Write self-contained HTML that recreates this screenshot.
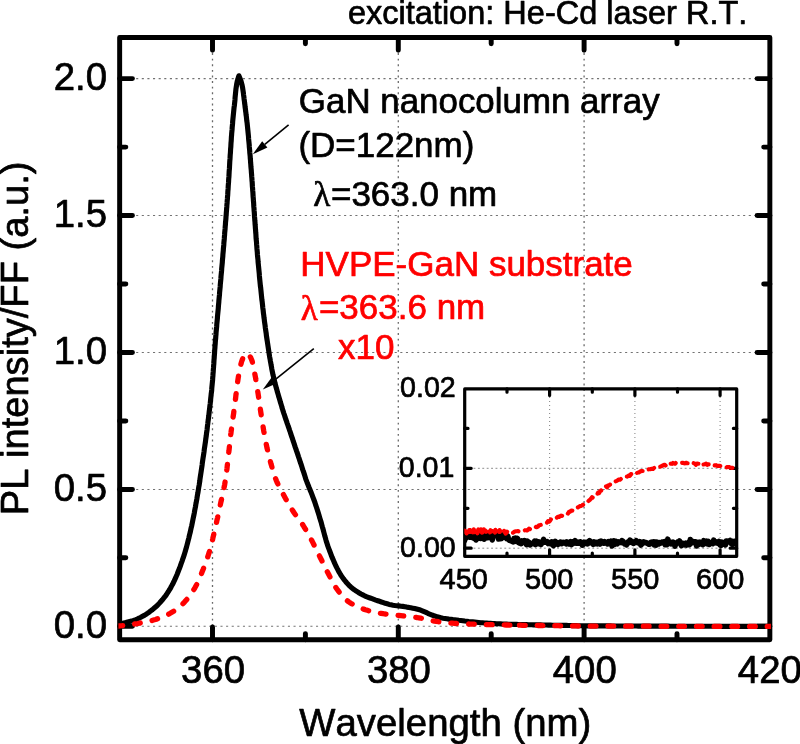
<!DOCTYPE html>
<html><head><meta charset="utf-8"><title>PL spectra</title>
<style>html,body{margin:0;padding:0;background:#fff}svg{display:block}text{font-family:"Liberation Sans",sans-serif;stroke-width:0.7px;stroke-linejoin:round;font-kerning:none}.sym{font-family:"Liberation Serif","DejaVu Serif",serif}</style></head><body>
<svg width="800" height="744" viewBox="0 0 800 744">
<rect width="800" height="744" fill="#fff"/>
<defs><clipPath id="cp"><rect x="118.45" y="37.5" width="652.45" height="602.3"/></clipPath><clipPath id="ci"><rect x="464.3" y="388.8" width="273.2" height="167"/></clipPath></defs>
<g><path d="M212.5,53.1V639.8" stroke="#6a6a6a" stroke-width="1.3" stroke-dasharray="1.9 3.7" fill="none"/><path d="M398.3,53.1V639.8" stroke="#6a6a6a" stroke-width="1.3" stroke-dasharray="1.9 3.7" fill="none"/><path d="M584.1,53.1V639.8" stroke="#6a6a6a" stroke-width="1.3" stroke-dasharray="1.9 3.7" fill="none"/><path d="M136.15,626.3H769.9" stroke="#737373" stroke-width="1.05" stroke-dasharray="2.1 3.52" fill="none"/><path d="M136.15,489.4H769.9" stroke="#737373" stroke-width="1.05" stroke-dasharray="2.1 3.52" fill="none"/><path d="M136.15,352.4H769.9" stroke="#737373" stroke-width="1.05" stroke-dasharray="2.1 3.52" fill="none"/><path d="M136.15,215.5H769.9" stroke="#737373" stroke-width="1.05" stroke-dasharray="2.1 3.52" fill="none"/><path d="M136.15,78.6H769.9" stroke="#737373" stroke-width="1.05" stroke-dasharray="2.1 3.52" fill="none"/></g>
<g stroke="#000" stroke-width="4.95" stroke-linecap="round" stroke-linejoin="round" fill="none">
<rect x="119.65" y="37.5" width="650.2" height="602.3"/>
<path d="M212.5,37.5v12.8M212.5,639.8v-12.8M398.3,37.5v12.8M398.3,639.8v-12.8M584.1,37.5v12.8M584.1,639.8v-12.8M305.4,37.5v6.2M305.4,639.8v-6.2M491.2,37.5v6.2M491.2,639.8v-6.2M677.0,37.5v6.2M677.0,639.8v-6.2M119.65,626.3h12.8M769.9,626.3h-12.8M119.65,489.4h12.8M769.9,489.4h-12.8M119.65,352.4h12.8M769.9,352.4h-12.8M119.65,215.5h12.8M769.9,215.5h-12.8M119.65,78.6h12.8M769.9,78.6h-12.8M119.65,557.8h6.2M769.9,557.8h-6.2M119.65,420.9h6.2M769.9,420.9h-6.2M119.65,284.0h6.2M769.9,284.0h-6.2M119.65,147.1h6.2M769.9,147.1h-6.2"/>
</g>
<g clip-path="url(#cp)" fill="none" stroke-linecap="round" stroke-linejoin="round">
<path d="M110.0,625.0 L112.0,624.9 L114.0,624.7 L116.0,624.4 L117.9,624.2 L119.9,623.8 L121.9,623.4 L123.8,623.0 L125.8,622.6 L127.7,622.1 L129.7,621.6 L131.6,621.1 L133.5,620.5 L135.3,619.8 L137.2,619.0 L139.0,618.2 L140.8,617.3 L142.6,616.3 L144.3,615.4 L146.0,614.3 L147.7,613.2 L149.3,612.1 L150.9,610.8 L152.5,609.6 L154.0,608.3 L155.5,607.0 L157.0,605.7 L158.4,604.2 L159.8,602.8 L161.1,601.3 L162.4,599.8 L163.7,598.2 L164.9,596.7 L166.1,595.1 L167.2,593.4 L168.3,591.7 L169.3,590.0 L170.4,588.3 L171.3,586.5 L172.3,584.8 L173.2,583.0 L174.1,581.2 L174.9,579.4 L175.7,577.6 L176.5,575.8 L177.3,573.9 L178.0,572.0 L178.7,570.2 L179.5,568.3 L180.2,566.4 L180.8,564.6 L181.5,562.7 L182.2,560.8 L182.8,558.9 L183.5,557.0 L184.1,555.1 L184.7,553.2 L185.3,551.3 L185.8,549.4 L186.4,547.5 L186.9,545.5 L187.4,543.6 L187.9,541.7 L188.4,539.7 L188.9,537.8 L189.3,535.9 L189.8,533.9 L190.3,532.0 L190.7,530.0 L191.1,528.1 L191.6,526.1 L192.0,524.2 L192.4,522.2 L192.8,520.3 L193.2,518.3 L193.6,516.4 L194.0,514.4 L194.4,512.4 L194.7,510.5 L195.1,508.5 L195.5,506.5 L195.8,504.6 L196.2,502.6 L196.5,500.7 L196.9,498.7 L197.2,496.7 L197.5,494.8 L197.9,492.8 L198.2,490.8 L198.5,488.8 L198.8,486.9 L199.2,484.9 L199.5,482.9 L199.8,481.0 L200.0,479.0 L200.3,477.0 L200.6,475.0 L200.9,473.1 L201.2,471.1 L201.5,469.1 L201.8,467.1 L202.1,465.1 L202.3,463.2 L202.6,461.2 L202.9,459.2 L203.2,457.2 L203.5,455.3 L203.8,453.3 L204.1,451.3 L204.3,449.3 L204.6,447.4 L204.9,445.4 L205.2,443.4 L205.5,441.4 L205.7,439.5 L206.0,437.5 L206.3,435.5 L206.5,433.5 L206.8,431.5 L207.1,429.6 L207.3,427.6 L207.5,425.6 L207.8,423.6 L208.0,421.6 L208.3,419.7 L208.5,417.7 L208.8,415.7 L209.0,413.7 L209.2,411.7 L209.5,409.7 L209.7,407.8 L209.9,405.8 L210.2,403.8 L210.4,401.8 L210.6,399.8 L210.8,397.8 L211.0,395.9 L211.2,393.9 L211.5,391.9 L211.7,389.9 L211.8,387.9 L212.0,385.9 L212.2,383.9 L212.4,381.9 L212.6,380.0 L212.7,378.0 L212.9,376.0 L213.0,374.0 L213.2,372.0 L213.3,370.0 L213.5,368.0 L213.6,366.0 L213.8,364.0 L213.9,362.0 L214.0,360.1 L214.2,358.1 L214.3,356.1 L214.5,354.1 L214.6,352.1 L214.7,350.1 L214.9,348.1 L215.0,346.1 L215.2,344.1 L215.3,342.1 L215.5,340.1 L215.7,338.1 L215.8,336.2 L216.0,334.2 L216.1,332.2 L216.3,330.2 L216.5,328.2 L216.7,326.2 L216.8,324.2 L217.0,322.2 L217.2,320.2 L217.4,318.3 L217.5,316.3 L217.7,314.3 L217.9,312.3 L218.1,310.3 L218.3,308.3 L218.4,306.3 L218.6,304.3 L218.8,302.3 L218.9,300.4 L219.1,298.4 L219.3,296.4 L219.5,294.4 L219.6,292.4 L219.8,290.4 L220.0,288.4 L220.2,286.4 L220.3,284.4 L220.5,282.5 L220.7,280.5 L220.9,278.5 L221.0,276.5 L221.2,274.5 L221.4,272.5 L221.6,270.5 L221.7,268.5 L221.9,266.6 L222.1,264.6 L222.3,262.6 L222.4,260.6 L222.6,258.6 L222.8,256.6 L222.9,254.6 L223.1,252.6 L223.3,250.6 L223.4,248.6 L223.6,246.7 L223.8,244.7 L223.9,242.7 L224.1,240.7 L224.3,238.7 L224.4,236.7 L224.6,234.7 L224.7,232.7 L224.9,230.7 L225.1,228.7 L225.2,226.8 L225.4,224.8 L225.5,222.8 L225.7,220.8 L225.9,218.8 L226.0,216.8 L226.2,214.8 L226.3,212.8 L226.5,210.8 L226.6,208.8 L226.8,206.9 L226.9,204.9 L227.1,202.9 L227.2,200.9 L227.4,198.9 L227.5,196.9 L227.7,194.9 L227.8,192.9 L227.9,190.9 L228.1,188.9 L228.2,186.9 L228.3,185.0 L228.5,183.0 L228.6,181.0 L228.7,179.0 L228.9,177.0 L229.0,175.0 L229.1,173.0 L229.2,171.0 L229.4,169.0 L229.5,167.0 L229.6,165.0 L229.7,163.0 L229.8,161.0 L230.0,159.0 L230.1,157.1 L230.2,155.1 L230.4,153.1 L230.5,151.1 L230.6,149.1 L230.8,147.1 L230.9,145.1 L231.0,143.1 L231.2,141.1 L231.3,139.1 L231.4,137.1 L231.6,135.1 L231.7,133.2 L231.9,131.2 L232.1,129.2 L232.2,127.2 L232.4,125.2 L232.6,123.2 L232.7,121.2 L232.9,119.2 L233.1,117.2 L233.3,115.3 L233.5,113.3 L233.7,111.3 L233.9,109.3 L234.1,107.3 L234.4,105.3 L234.6,103.3 L234.8,101.4 L235.0,99.4 L235.1,97.4 L235.3,95.4 L235.5,93.4 L235.7,91.4 L235.9,89.4 L236.2,87.4 L236.5,85.5 L236.8,83.5 L237.2,81.6 L237.8,79.6 L238.3,77.7 L238.9,75.8 L239.7,77.7 L240.4,79.5 L241.1,81.4 L241.6,83.3 L242.1,85.2 L242.5,87.2 L242.8,89.1 L243.1,91.1 L243.4,93.1 L243.6,95.1 L243.9,97.1 L244.1,99.1 L244.4,101.1 L244.6,103.0 L244.9,105.0 L245.1,107.0 L245.4,109.0 L245.6,111.0 L245.9,112.9 L246.1,114.9 L246.4,116.9 L246.6,118.9 L246.8,120.9 L247.1,122.8 L247.3,124.8 L247.5,126.8 L247.7,128.8 L247.9,130.8 L248.1,132.8 L248.3,134.8 L248.5,136.8 L248.6,138.7 L248.8,140.7 L249.0,142.7 L249.2,144.7 L249.3,146.7 L249.5,148.7 L249.7,150.7 L249.8,152.7 L250.0,154.6 L250.2,156.6 L250.3,158.6 L250.5,160.6 L250.6,162.6 L250.8,164.6 L250.9,166.6 L251.1,168.6 L251.3,170.6 L251.4,172.6 L251.6,174.6 L251.7,176.5 L251.9,178.5 L252.0,180.5 L252.2,182.5 L252.3,184.5 L252.4,186.5 L252.6,188.5 L252.7,190.5 L252.9,192.5 L253.0,194.5 L253.1,196.4 L253.3,198.4 L253.4,200.4 L253.6,202.4 L253.7,204.4 L253.8,206.4 L254.0,208.4 L254.1,210.4 L254.3,212.4 L254.4,214.4 L254.5,216.4 L254.7,218.4 L254.8,220.3 L255.0,222.3 L255.1,224.3 L255.3,226.3 L255.4,228.3 L255.6,230.3 L255.7,232.3 L255.9,234.3 L256.0,236.3 L256.1,238.3 L256.3,240.3 L256.5,242.2 L256.6,244.2 L256.8,246.2 L256.9,248.2 L257.1,250.2 L257.3,252.2 L257.4,254.2 L257.6,256.2 L257.8,258.2 L258.0,260.1 L258.1,262.1 L258.3,264.1 L258.5,266.1 L258.7,268.1 L258.9,270.1 L259.1,272.1 L259.3,274.1 L259.4,276.0 L259.6,278.0 L259.8,280.0 L260.0,282.0 L260.2,284.0 L260.4,286.0 L260.7,288.0 L260.9,289.9 L261.1,291.9 L261.3,293.9 L261.5,295.9 L261.7,297.9 L261.9,299.9 L262.2,301.9 L262.4,303.8 L262.6,305.8 L262.8,307.8 L263.1,309.8 L263.3,311.8 L263.5,313.7 L263.8,315.7 L264.0,317.7 L264.3,319.7 L264.5,321.7 L264.8,323.6 L265.1,325.6 L265.3,327.6 L265.6,329.6 L265.9,331.6 L266.2,333.5 L266.4,335.5 L266.7,337.5 L267.0,339.5 L267.3,341.4 L267.6,343.4 L267.9,345.4 L268.2,347.4 L268.5,349.3 L268.8,351.3 L269.1,353.3 L269.4,355.3 L269.7,357.2 L270.1,359.2 L270.4,361.2 L270.8,363.1 L271.1,365.1 L271.5,367.1 L271.8,369.0 L272.2,371.0 L272.6,372.9 L273.0,374.9 L273.5,376.8 L273.9,378.8 L274.4,380.7 L274.9,382.6 L275.4,384.6 L275.9,386.5 L276.4,388.4 L277.0,390.3 L277.5,392.3 L278.1,394.2 L278.6,396.1 L279.2,398.0 L279.8,400.0 L280.3,401.9 L280.9,403.8 L281.5,405.7 L282.0,407.6 L282.6,409.5 L283.2,411.4 L283.8,413.3 L284.5,415.2 L285.1,417.1 L285.7,419.0 L286.4,420.9 L287.0,422.8 L287.7,424.7 L288.3,426.5 L289.0,428.4 L289.6,430.3 L290.3,432.2 L290.9,434.1 L291.5,436.0 L292.2,437.9 L292.8,439.8 L293.4,441.7 L294.1,443.6 L294.7,445.5 L295.3,447.4 L296.0,449.2 L296.6,451.1 L297.3,453.0 L297.9,454.9 L298.5,456.8 L299.2,458.7 L299.8,460.6 L300.4,462.5 L301.1,464.4 L301.7,466.3 L302.3,468.2 L302.9,470.1 L303.6,472.0 L304.2,473.9 L304.8,475.8 L305.4,477.7 L306.0,479.6 L306.7,481.4 L307.4,483.3 L308.2,485.2 L308.9,487.0 L309.7,488.9 L310.4,490.7 L311.2,492.6 L311.9,494.4 L312.6,496.3 L313.3,498.1 L314.0,500.0 L314.7,501.9 L315.3,503.8 L315.9,505.7 L316.6,507.6 L317.2,509.5 L317.8,511.4 L318.4,513.3 L319.0,515.2 L319.5,517.1 L320.1,519.0 L320.7,520.9 L321.3,522.8 L321.8,524.8 L322.3,526.7 L322.9,528.6 L323.4,530.5 L323.9,532.5 L324.4,534.4 L324.9,536.3 L325.5,538.3 L326.0,540.2 L326.6,542.1 L327.2,544.0 L327.8,545.9 L328.5,547.8 L329.2,549.6 L329.9,551.5 L330.6,553.4 L331.3,555.2 L332.0,557.1 L332.8,558.9 L333.6,560.8 L334.4,562.6 L335.2,564.4 L336.1,566.3 L337.0,568.1 L337.9,569.8 L338.8,571.6 L339.8,573.3 L340.8,575.0 L341.9,576.6 L343.1,578.3 L344.3,579.9 L345.6,581.5 L346.9,583.0 L348.3,584.5 L349.6,585.9 L351.1,587.2 L352.6,588.4 L354.2,589.7 L355.9,590.8 L357.6,591.9 L359.3,593.0 L361.0,594.0 L362.8,594.9 L364.6,595.8 L366.4,596.6 L368.2,597.3 L370.1,598.0 L372.0,598.7 L373.9,599.4 L375.8,600.1 L377.7,600.7 L379.6,601.3 L381.5,602.0 L383.4,602.6 L385.3,603.3 L387.2,603.8 L389.1,604.4 L391.0,604.8 L393.0,605.2 L395.0,605.5 L396.9,605.7 L398.9,605.9 L400.9,606.2 L402.9,606.4 L404.9,606.7 L406.8,607.1 L408.8,607.4 L410.8,607.8 L412.8,608.2 L414.7,608.6 L416.6,609.1 L418.6,609.6 L420.5,610.1 L422.3,610.8 L424.2,611.6 L426.0,612.4 L427.8,613.3 L429.7,614.1 L431.5,614.8 L433.4,615.5 L435.3,616.1 L437.2,616.8 L439.1,617.3 L441.0,617.8 L443.0,618.2 L444.9,618.5 L446.9,618.8 L448.9,619.1 L450.9,619.3 L452.9,619.6 L454.8,619.8 L456.8,620.0 L458.8,620.3 L460.8,620.5 L462.8,620.7 L464.8,621.0 L466.8,621.2 L468.7,621.5 L470.7,621.7 L472.7,621.9 L474.7,622.1 L476.7,622.3 L478.7,622.5 L480.7,622.7 L482.6,622.8 L484.6,623.0 L486.6,623.1 L488.6,623.3 L490.6,623.4 L492.6,623.5 L494.6,623.6 L496.6,623.7 L498.6,623.8 L500.6,623.9 L502.6,624.0 L504.6,624.1 L506.6,624.1 L508.5,624.2 L510.5,624.2 L512.5,624.3 L514.5,624.4 L516.5,624.4 L518.5,624.5 L520.5,624.5 L522.5,624.5 L524.5,624.6 L526.5,624.6 L528.5,624.7 L530.5,624.7 L532.5,624.8 L534.5,624.8 L536.5,624.8 L538.5,624.9 L540.5,624.9 L542.5,625.0 L544.5,625.0 L546.5,625.0 L548.5,625.1 L550.5,625.1 L552.5,625.2 L554.5,625.2 L556.4,625.2 L558.4,625.3 L560.4,625.3 L562.4,625.4 L564.4,625.4 L566.4,625.4 L568.4,625.5 L570.4,625.5 L572.4,625.6 L574.4,625.6 L576.4,625.6 L578.4,625.7 L580.4,625.7 L582.4,625.7 L584.4,625.8 L586.4,625.8 L588.4,625.8 L590.4,625.8 L592.4,625.8 L594.4,625.9 L596.4,625.9 L598.4,625.9 L600.4,625.9 L602.4,625.9 L604.3,625.9 L606.3,625.9 L608.3,625.9 L610.3,625.9 L612.3,626.0 L614.3,626.0 L616.3,626.0 L618.3,626.0 L620.3,626.0 L622.3,626.0 L624.3,626.0 L626.3,626.0 L628.3,626.0 L630.3,626.0 L632.3,626.0 L634.3,626.0 L636.3,626.0 L638.3,626.1 L640.3,626.1 L642.3,626.1 L644.3,626.1 L646.3,626.1 L648.3,626.1 L650.3,626.1 L652.2,626.1 L654.2,626.1 L656.2,626.1 L658.2,626.1 L660.2,626.1 L662.2,626.1 L664.2,626.1 L666.2,626.1 L668.2,626.1 L670.2,626.2 L672.2,626.2 L674.2,626.2 L676.2,626.2 L678.2,626.2 L680.2,626.2 L682.2,626.2 L684.2,626.2 L686.2,626.2 L688.2,626.2 L690.2,626.2 L692.2,626.2 L694.2,626.2 L696.2,626.2 L698.2,626.2 L700.2,626.2 L702.1,626.2 L704.1,626.2 L706.1,626.2 L708.1,626.2 L710.1,626.2 L712.1,626.2 L714.1,626.2 L716.1,626.3 L718.1,626.3 L720.1,626.3 L722.1,626.3 L724.1,626.3 L726.1,626.3 L728.1,626.3 L730.1,626.3 L732.1,626.3 L734.1,626.3 L736.1,626.3 L738.1,626.3 L740.1,626.3 L742.1,626.3 L744.1,626.3 L746.1,626.3 L748.1,626.3 L750.1,626.3 L752.1,626.3 L754.0,626.3 L756.0,626.3 L758.0,626.3 L760.0,626.3 L762.0,626.3 L764.0,626.3 L766.0,626.3 L768.0,626.3 L770.0,626.3 L772.0,626.3 L774.0,626.3 L776.0,626.3 L778.0,626.3 L780.0,626.3" stroke="#000" stroke-width="5.15"/>
<path d="M110.0,626.2 L112.0,626.2 L114.0,626.1 L116.0,626.0 L118.0,626.0 L120.0,625.8 L122.0,625.7 L124.0,625.5 L126.0,625.3 L127.9,625.0 L129.9,624.7 L131.9,624.4 L133.9,624.1 L135.8,623.8 L137.8,623.5 L139.8,623.1 L141.8,622.8 L143.7,622.4 L145.7,622.0 L147.7,621.5 L149.6,621.0 L151.6,620.6 L153.5,620.0 L155.4,619.5 L157.3,618.9 L159.2,618.3 L161.0,617.6 L162.9,616.9 L164.8,616.1 L166.6,615.2 L168.4,614.3 L170.2,613.3 L171.9,612.3 L173.6,611.3 L175.2,610.2 L176.8,609.0 L178.4,607.8 L179.9,606.5 L181.4,605.1 L182.9,603.7 L184.3,602.3 L185.6,600.8 L186.9,599.3 L188.2,597.8 L189.4,596.2 L190.6,594.6 L191.7,592.9 L192.8,591.2 L193.9,589.5 L194.9,587.8 L195.9,586.0 L196.8,584.3 L197.6,582.5 L198.5,580.7 L199.3,578.8 L200.1,577.0 L200.9,575.1 L201.6,573.3 L202.3,571.4 L203.1,569.5 L203.8,567.7 L204.5,565.8 L205.2,563.9 L205.9,562.1 L206.6,560.2 L207.3,558.3 L207.9,556.4 L208.5,554.5 L209.1,552.6 L209.7,550.7 L210.2,548.8 L210.8,546.8 L211.2,544.9 L211.7,543.0 L212.2,541.0 L212.7,539.1 L213.1,537.1 L213.6,535.2 L214.0,533.2 L214.5,531.3 L214.9,529.3 L215.4,527.4 L215.8,525.4 L216.3,523.5 L216.7,521.5 L217.1,519.6 L217.6,517.6 L218.0,515.7 L218.4,513.7 L218.9,511.8 L219.3,509.8 L219.7,507.9 L220.1,505.9 L220.5,504.0 L220.9,502.0 L221.4,500.0 L221.8,498.1 L222.2,496.1 L222.7,494.2 L223.1,492.2 L223.5,490.3 L223.9,488.3 L224.3,486.4 L224.7,484.4 L225.0,482.4 L225.3,480.5 L225.6,478.5 L225.9,476.5 L226.2,474.5 L226.4,472.5 L226.7,470.6 L227.0,468.6 L227.2,466.6 L227.4,464.6 L227.7,462.6 L227.9,460.6 L228.1,458.7 L228.3,456.7 L228.5,454.7 L228.7,452.7 L229.0,450.7 L229.2,448.7 L229.4,446.7 L229.6,444.7 L229.8,442.8 L230.0,440.8 L230.3,438.8 L230.5,436.8 L230.7,434.8 L231.0,432.8 L231.2,430.9 L231.5,428.9 L231.8,426.9 L232.0,424.9 L232.3,422.9 L232.6,420.9 L232.8,419.0 L233.1,417.0 L233.4,415.0 L233.7,413.0 L233.9,411.0 L234.2,409.1 L234.5,407.1 L234.7,405.1 L235.0,403.1 L235.2,401.1 L235.5,399.2 L235.7,397.2 L235.9,395.2 L236.2,393.2 L236.4,391.2 L236.6,389.2 L236.9,387.2 L237.1,385.2 L237.4,383.3 L237.7,381.3 L238.0,379.3 L238.3,377.4 L238.6,375.4 L239.0,373.4 L239.3,371.4 L239.7,369.4 L240.1,367.4 L240.6,365.4 L241.1,363.5 L241.6,361.6 L242.3,359.8 L243.0,357.8 L244.0,355.6 L245.3,353.9 L246.6,353.6 L248.4,354.6 L249.9,356.1 L250.7,357.6 L251.4,359.2 L252.1,361.0 L252.6,363.0 L253.1,365.0 L253.6,367.1 L254.0,369.2 L254.3,371.3 L254.7,373.4 L255.1,375.4 L255.5,377.4 L255.8,379.4 L256.2,381.3 L256.5,383.3 L256.8,385.2 L257.1,387.2 L257.4,389.2 L257.7,391.2 L258.0,393.2 L258.3,395.1 L258.6,397.1 L258.9,399.1 L259.1,401.1 L259.4,403.1 L259.7,405.1 L260.0,407.0 L260.3,409.0 L260.6,411.0 L260.9,413.0 L261.2,414.9 L261.5,416.9 L261.8,418.9 L262.1,420.9 L262.5,422.8 L262.8,424.8 L263.1,426.8 L263.4,428.8 L263.7,430.7 L264.1,432.7 L264.4,434.7 L264.7,436.6 L265.1,438.6 L265.5,440.6 L265.9,442.5 L266.3,444.5 L266.7,446.4 L267.1,448.4 L267.6,450.3 L268.0,452.3 L268.5,454.2 L269.0,456.2 L269.5,458.1 L270.0,460.0 L270.5,462.0 L271.0,463.9 L271.6,465.8 L272.1,467.7 L272.7,469.7 L273.3,471.6 L273.8,473.5 L274.5,475.4 L275.1,477.3 L275.8,479.2 L276.5,481.0 L277.3,482.8 L278.2,484.6 L279.0,486.4 L280.0,488.2 L280.9,490.0 L281.9,491.7 L282.8,493.5 L283.8,495.3 L284.7,497.0 L285.7,498.8 L286.7,500.5 L287.6,502.3 L288.6,504.0 L289.6,505.7 L290.7,507.5 L291.7,509.2 L292.8,510.8 L293.9,512.5 L295.0,514.1 L296.2,515.7 L297.4,517.3 L298.6,519.0 L299.8,520.6 L301.0,522.2 L302.1,523.8 L303.2,525.5 L304.2,527.2 L305.3,528.9 L306.3,530.6 L307.3,532.4 L308.3,534.1 L309.2,535.9 L310.2,537.6 L311.2,539.4 L312.1,541.1 L313.0,542.9 L313.9,544.7 L314.8,546.5 L315.7,548.3 L316.6,550.1 L317.5,551.9 L318.3,553.7 L319.2,555.4 L320.1,557.2 L321.0,559.0 L321.9,560.8 L322.8,562.6 L323.6,564.4 L324.5,566.2 L325.4,568.0 L326.3,569.8 L327.2,571.6 L328.1,573.3 L329.1,575.1 L330.0,576.9 L330.9,578.7 L331.9,580.4 L332.8,582.2 L333.8,584.0 L334.8,585.7 L335.8,587.4 L336.9,589.0 L338.1,590.6 L339.3,592.3 L340.5,593.9 L341.9,595.4 L343.2,597.0 L344.6,598.4 L346.1,599.8 L347.6,601.0 L349.1,602.1 L350.8,603.2 L352.5,604.2 L354.3,605.2 L356.1,606.1 L357.9,607.0 L359.8,607.7 L361.7,608.5 L363.6,609.1 L365.4,609.7 L367.4,610.3 L369.3,610.9 L371.2,611.4 L373.2,611.9 L375.1,612.3 L377.1,612.7 L379.1,613.1 L381.0,613.4 L383.0,613.7 L385.0,614.0 L387.0,614.2 L389.0,614.4 L390.9,614.6 L392.9,614.8 L394.9,615.0 L396.9,615.3 L398.9,615.5 L400.9,615.7 L402.9,615.9 L404.9,616.1 L406.9,616.4 L408.9,616.6 L410.8,616.8 L412.8,617.0 L414.8,617.3 L416.8,617.5 L418.8,617.8 L420.7,618.1 L422.7,618.5 L424.6,618.9 L426.6,619.4 L428.5,619.9 L430.5,620.3 L432.4,620.7 L434.4,621.1 L436.4,621.4 L438.4,621.7 L440.3,622.0 L442.3,622.2 L444.3,622.5 L446.3,622.7 L448.3,622.9 L450.3,623.1 L452.3,623.2 L454.3,623.3 L456.3,623.5 L458.2,623.6 L460.2,623.7 L462.2,623.8 L464.2,623.9 L466.2,623.9 L468.2,624.0 L470.2,624.1 L472.2,624.2 L474.2,624.2 L476.2,624.3 L478.2,624.4 L480.2,624.4 L482.2,624.5 L484.2,624.5 L486.2,624.6 L488.2,624.6 L490.2,624.7 L492.2,624.7 L494.2,624.7 L496.2,624.8 L498.2,624.8 L500.2,624.9 L502.2,624.9 L504.2,624.9 L506.2,625.0 L508.2,625.0 L510.2,625.1 L512.2,625.1 L514.2,625.1 L516.2,625.2 L518.2,625.2 L519.5,625.2" stroke="#f00" stroke-width="5.3" stroke-dasharray="5.7 12.1" stroke-dashoffset="10.80"/>
<path d="M519.5,625.2 L520.2,625.2 L522.2,625.3 L524.2,625.3 L526.2,625.3 L528.2,625.3 L530.2,625.4 L532.2,625.4 L534.2,625.4 L536.2,625.4 L538.2,625.5 L540.2,625.5 L542.2,625.5 L544.2,625.6 L546.2,625.6 L548.2,625.6 L550.2,625.6 L552.2,625.7 L554.2,625.7 L556.2,625.7 L558.2,625.7 L560.2,625.8 L562.2,625.8 L564.2,625.8 L566.2,625.8 L568.2,625.9 L570.1,625.9 L572.1,625.9 L574.1,625.9 L576.1,625.9 L578.1,626.0 L580.1,626.0 L582.1,626.0 L584.1,626.0 L586.1,626.0 L588.1,626.0 L590.1,626.1 L592.1,626.1 L594.1,626.1 L596.1,626.1 L598.1,626.1 L600.1,626.1 L602.1,626.1 L604.1,626.1 L606.1,626.1 L608.1,626.1 L610.1,626.1 L612.1,626.1 L614.1,626.1 L616.1,626.2 L618.1,626.2 L620.1,626.2 L622.1,626.2 L624.1,626.2 L626.1,626.2 L628.1,626.2 L630.1,626.2 L632.1,626.2 L634.1,626.2 L636.1,626.2 L638.1,626.2 L640.1,626.2 L642.1,626.2 L644.1,626.2 L646.1,626.2 L648.1,626.2 L650.1,626.2 L652.1,626.2 L654.1,626.3 L656.1,626.3 L658.1,626.3 L660.1,626.3 L662.1,626.3 L664.1,626.3 L666.1,626.3 L668.1,626.3 L670.1,626.3 L672.1,626.3 L674.1,626.3 L676.1,626.3 L678.1,626.3 L680.1,626.3 L682.1,626.3 L684.1,626.3 L686.1,626.3 L688.1,626.3 L690.1,626.3 L692.1,626.3 L694.1,626.3 L696.1,626.3 L698.1,626.3 L700.1,626.3 L702.1,626.3 L704.1,626.3 L706.1,626.3 L708.0,626.4 L710.0,626.4 L712.0,626.4 L714.0,626.4 L716.0,626.4 L718.0,626.4 L720.0,626.4 L722.0,626.4 L724.0,626.4 L726.0,626.4 L728.0,626.4 L730.0,626.4 L732.0,626.4 L734.0,626.4 L736.0,626.4 L738.0,626.4 L740.0,626.4 L742.0,626.4 L744.0,626.4 L746.0,626.4 L748.0,626.4 L750.0,626.4 L752.0,626.4 L754.0,626.4 L756.0,626.4 L758.0,626.4 L760.0,626.4 L762.0,626.4 L764.0,626.4 L766.0,626.4 L768.0,626.4 L770.0,626.4 L772.0,626.4 L774.0,626.4 L776.0,626.4 L778.0,626.4 L780.0,626.4" stroke="#f00" stroke-width="5.3" stroke-dasharray="5.7 12.0"/>
</g>
<path d="M288.6,124.9L264.8,144.4" stroke="#000" stroke-width="1.6" fill="none"/><path d="M252.8,154.2L262.2,141.2L267.4,147.6Z" fill="#000"/>
<path d="M313.8,348.6L274.9,379.8" stroke="#000" stroke-width="1.6" fill="none"/><path d="M262.8,389.5L272.3,376.6L277.5,383.0Z" fill="#000"/>
<g><path d="M549.6,388.9V556.3" stroke="#8c8c8c" stroke-width="1.1" stroke-dasharray="1.2 2.8" fill="none"/><path d="M634.9,388.9V556.3" stroke="#8c8c8c" stroke-width="1.1" stroke-dasharray="1.2 2.8" fill="none"/><path d="M720.1,388.9V556.3" stroke="#8c8c8c" stroke-width="1.1" stroke-dasharray="1.2 2.8" fill="none"/><path d="M464.7,548.2H736.7" stroke="#8c8c8c" stroke-width="1" stroke-dasharray="1.9 2.5" fill="none"/><path d="M464.7,468.3H736.7" stroke="#8c8c8c" stroke-width="1" stroke-dasharray="1.9 2.5" fill="none"/></g>
<g stroke="#000" stroke-width="3.2" stroke-linecap="round" stroke-linejoin="round" fill="none">
<rect x="464.7" y="388.9" width="272.0" height="167.4"/>
<path d="M549.6,388.9v6.5M549.6,556.3v-6.5M634.9,388.9v6.5M634.9,556.3v-6.5M720.1,388.9v6.5M720.1,556.3v-6.5M507.0,388.9v3.3M507.0,556.3v-3.3M592.3,388.9v3.3M592.3,556.3v-3.3M677.5,388.9v3.3M677.5,556.3v-3.3M464.7,548.2h6.5M736.7,548.2h-6.5M464.7,468.3h6.5M736.7,468.3h-6.5M464.7,508.3h3.3M736.7,508.3h-3.3M464.7,428.4h3.3M736.7,428.4h-3.3"/>
</g>
<g clip-path="url(#ci)" fill="none" stroke-linecap="round" stroke-linejoin="round">
<path d="M464.4,540.8 L465.3,538.5 L466.2,537.8 L467.1,534.4 L468.0,537.0 L468.9,536.8 L469.8,537.2 L470.7,536.2 L471.6,537.2 L472.5,536.4 L473.4,534.9 L474.3,538.6 L475.2,538.5 L476.1,539.9 L477.0,537.0 L477.9,536.2 L478.8,535.9 L479.7,534.2 L480.6,538.5 L481.5,534.9 L482.4,534.7 L483.3,536.3 L484.2,539.2 L485.1,537.0 L486.0,534.9 L486.9,535.4 L487.8,537.6 L488.7,536.3 L489.6,535.2 L490.5,536.1 L491.4,537.8 L492.3,539.9 L493.2,534.4 L494.1,535.5 L495.0,535.3 L495.9,532.6 L496.8,535.3 L497.7,535.2 L498.6,539.0 L499.5,537.0 L500.4,534.6 L501.3,538.6 L502.2,537.0 L503.1,534.9 L504.0,537.0 L504.9,537.2 L505.8,537.3 L506.7,538.6 L507.6,536.0 L508.5,538.7 L509.4,540.4 L510.3,540.4 L511.2,540.9 L512.1,541.1 L513.0,541.8 L513.9,538.7 L514.8,541.4 L515.7,538.2 L516.6,539.9 L517.5,538.5 L518.4,542.3 L519.3,542.9 L520.2,541.1 L521.1,543.7 L522.0,540.8 L522.9,541.9 L523.8,542.1 L524.7,540.7 L525.6,542.7 L526.5,544.7 L527.4,541.1 L528.3,543.6 L529.2,542.4 L530.1,544.8 L531.0,543.3 L531.9,543.6 L532.8,543.6 L533.7,543.1 L534.6,541.1 L535.5,544.6 L536.4,541.2 L537.3,543.3 L538.2,543.7 L539.1,541.9 L540.0,543.2 L540.9,544.5 L541.8,543.0 L542.7,541.9 L543.6,539.4 L544.5,541.8 L545.4,542.3 L546.3,542.3 L547.2,541.8 L548.1,543.5 L549.0,542.3 L549.9,542.8 L550.8,543.8 L551.7,541.9 L552.6,542.6 L553.5,545.7 L554.4,544.1 L555.3,541.3 L556.2,542.9 L557.1,543.7 L558.0,544.5 L558.9,543.1 L559.8,542.3 L560.7,542.0 L561.6,543.7 L562.5,543.3 L563.4,542.3 L564.3,542.7 L565.2,542.4 L566.1,543.8 L567.0,542.0 L567.9,543.5 L568.8,543.9 L569.7,543.5 L570.6,541.8 L571.5,544.5 L572.4,542.0 L573.3,543.4 L574.2,541.9 L575.1,540.7 L576.0,543.1 L576.9,543.2 L577.8,542.7 L578.7,543.2 L579.6,542.0 L580.5,541.9 L581.4,542.6 L582.3,545.2 L583.2,543.8 L584.1,542.1 L585.0,543.5 L585.9,542.2 L586.8,542.2 L587.7,543.8 L588.6,542.1 L589.5,540.6 L590.4,541.6 L591.3,542.8 L592.2,542.9 L593.1,544.3 L594.0,541.8 L594.9,543.6 L595.8,543.2 L596.7,542.5 L597.6,543.8 L598.5,543.3 L599.4,541.6 L600.3,544.0 L601.2,541.2 L602.1,542.8 L603.0,542.7 L603.9,543.2 L604.8,541.8 L605.7,542.6 L606.6,542.5 L607.5,543.9 L608.4,541.7 L609.3,542.8 L610.2,542.3 L611.1,541.1 L612.0,546.0 L612.9,542.6 L613.8,540.8 L614.7,544.4 L615.6,541.3 L616.5,543.1 L617.4,543.7 L618.3,541.8 L619.2,542.1 L620.1,542.0 L621.0,542.5 L621.9,540.6 L622.8,541.1 L623.7,542.5 L624.6,543.9 L625.5,543.4 L626.4,544.8 L627.3,543.5 L628.2,542.0 L629.1,542.5 L630.0,540.1 L630.9,541.4 L631.8,541.4 L632.7,543.0 L633.6,543.4 L634.5,541.9 L635.4,541.9 L636.3,540.7 L637.2,542.5 L638.1,542.9 L639.0,543.2 L639.9,541.6 L640.8,545.1 L641.7,544.1 L642.6,542.5 L643.5,541.9 L644.4,542.2 L645.3,542.8 L646.2,542.6 L647.1,543.2 L648.0,543.6 L648.9,544.3 L649.8,544.0 L650.7,542.5 L651.6,543.1 L652.5,542.1 L653.4,541.9 L654.3,545.0 L655.2,542.0 L656.1,545.1 L657.0,542.1 L657.9,542.9 L658.8,543.9 L659.7,542.6 L660.6,543.1 L661.5,542.3 L662.4,542.0 L663.3,542.4 L664.2,541.8 L665.1,544.6 L666.0,542.4 L666.9,544.7 L667.8,539.2 L668.7,542.6 L669.6,543.3 L670.5,542.2 L671.4,543.9 L672.3,543.4 L673.2,542.2 L674.1,543.1 L675.0,546.1 L675.9,542.9 L676.8,542.9 L677.7,542.0 L678.6,542.7 L679.5,540.9 L680.4,542.3 L681.3,545.6 L682.2,543.9 L683.1,543.3 L684.0,543.9 L684.9,544.9 L685.8,543.3 L686.7,545.1 L687.6,543.9 L688.5,542.7 L689.4,544.7 L690.3,539.6 L691.2,541.8 L692.1,542.9 L693.0,541.4 L693.9,542.3 L694.8,541.7 L695.7,541.7 L696.6,545.9 L697.5,543.3 L698.4,542.5 L699.3,544.2 L700.2,542.2 L701.1,543.6 L702.0,543.0 L702.9,544.5 L703.8,540.7 L704.7,543.5 L705.6,542.7 L706.5,541.1 L707.4,543.8 L708.3,541.4 L709.2,544.5 L710.1,543.2 L711.0,543.4 L711.9,542.6 L712.8,543.6 L713.7,540.2 L714.6,542.6 L715.5,541.7 L716.4,542.9 L717.3,542.4 L718.2,543.3 L719.1,541.5 L720.0,544.8 L720.9,545.4 L721.8,542.2 L722.7,542.5 L723.6,542.9 L724.5,544.1 L725.4,544.9 L726.3,541.0 L727.2,541.7 L728.1,541.2 L729.0,541.1 L729.9,540.5 L730.8,543.0 L731.7,541.1 L732.6,544.4 L733.5,543.6 L734.4,541.2 L735.3,541.2 L736.2,541.7 L737.1,544.2" stroke="#000" stroke-width="5.6"/>
<path d="M464.4,531.2 L464.8,530.6 L465.3,531.9 L465.7,532.3 L466.2,531.3 L466.6,533.4 L467.1,532.1 L467.5,532.3 L468.0,531.0 L468.4,531.7 L468.9,531.6 L469.3,529.6 L469.8,532.0 L470.2,530.0 L470.7,531.6 L471.1,530.3 L471.6,533.5 L472.0,531.9 L472.5,532.4 L472.9,532.4 L473.4,530.3 L473.8,529.4 L474.3,531.2 L474.7,532.3 L475.2,531.6 L475.6,532.2 L476.1,532.3 L476.5,530.0 L477.0,531.7 L477.4,533.3 L477.9,530.8 L478.3,529.4 L478.8,531.1 L479.2,530.9 L479.7,531.7 L480.1,530.4 L480.6,531.4 L481.0,529.2 L481.5,532.1 L481.9,532.7 L482.4,532.5 L482.8,529.8 L483.3,531.5 L483.7,528.3 L484.2,531.4 L484.6,531.1 L485.1,530.2 L485.5,531.4 L486.0,531.2 L486.4,532.0 L486.9,531.2 L487.3,531.3 L487.8,529.2 L488.2,529.9 L488.7,530.6 L489.1,531.3 L489.6,531.0 L490.0,532.4 L490.5,530.2 L490.9,530.8 L491.4,531.2 L491.8,530.8 L492.3,531.5 L492.7,530.5 L493.2,532.4 L493.6,530.7 L494.1,532.1 L494.5,531.1 L495.0,532.6 L495.4,529.9 L495.9,531.7 L496.3,530.9 L496.8,531.6 L497.2,532.5 L497.7,530.4 L498.1,530.3 L498.6,530.7 L499.0,531.9 L499.5,530.0 L499.9,531.9 L500.4,530.7 L500.8,530.9 L501.3,531.7 L501.7,532.3 L502.2,531.6 L502.6,531.7 L503.1,532.1 L503.5,532.0 L504.0,530.3 L504.4,531.9 L504.9,532.3 L505.3,533.0 L505.8,533.7 L506.2,532.7 L506.7,532.3 L507.1,531.7 L507.6,532.3 L508.0,532.7 L509.0,532.9 L510.0,531.7 L511.0,532.2 L512.0,532.4 L513.0,532.8 L514.0,531.9 L515.0,531.5 L516.0,531.3 L517.0,531.3 L518.0,531.1 L519.0,531.7 L520.0,531.6 L521.0,531.4 L522.0,531.4 L523.0,530.5 L524.0,530.7 L525.0,530.2 L526.0,530.2 L527.0,530.5 L528.0,529.8 L529.0,528.7 L530.0,529.2 L531.0,528.7 L532.0,528.0 L533.0,528.0 L534.0,528.4 L535.0,528.3 L536.0,526.8 L537.0,527.1 L538.0,526.7 L539.0,525.2 L540.0,525.2 L541.0,524.8 L542.0,524.4 L543.0,523.1 L544.0,523.2 L545.0,523.3 L546.0,522.9 L547.0,522.7 L548.0,521.2 L549.0,521.7 L550.0,520.7 L551.0,519.3 L552.0,519.8 L553.0,518.8 L554.0,518.8 L555.0,518.1 L556.0,518.3 L557.0,517.5 L558.0,516.8 L559.0,517.0 L560.0,516.3 L561.0,515.6 L562.0,515.9 L563.0,514.8 L564.0,514.2 L565.0,513.8 L566.0,513.0 L567.0,512.9 L568.0,513.6 L569.0,511.8 L570.0,511.8 L571.0,510.8 L572.0,510.5 L573.0,511.0 L574.0,510.2 L575.0,509.0 L576.0,508.8 L577.0,507.9 L578.0,507.3 L579.0,506.7 L580.0,506.1 L581.0,506.0 L582.0,505.5 L583.0,504.8 L584.0,503.8 L585.0,502.5 L586.0,502.4 L587.0,501.3 L588.0,501.4 L589.0,500.5 L590.0,499.8 L591.0,498.6 L592.0,497.2 L593.0,497.7 L594.0,497.0 L595.0,495.0 L596.0,494.9 L597.0,494.6 L598.0,492.7 L599.0,493.2 L600.0,491.4 L601.0,490.3 L602.0,490.6 L603.0,489.4 L604.0,488.2 L605.0,488.2 L606.0,486.3 L607.0,487.4 L608.0,485.6 L609.0,485.4 L610.0,484.5 L611.0,484.3 L612.0,484.0 L613.0,482.6 L614.0,482.8 L615.0,481.8 L616.0,481.1 L617.0,480.8 L618.0,479.9 L619.0,479.5 L620.0,479.8 L621.0,478.9 L622.0,479.0 L623.0,478.3 L624.0,477.2 L625.0,476.4 L626.0,476.5 L627.0,476.6 L628.0,476.1 L629.0,475.3 L630.0,475.8 L631.0,474.1 L632.0,474.0 L633.0,474.2 L634.0,474.8 L635.0,473.6 L636.0,472.6 L637.0,472.9 L638.0,472.6 L639.0,472.4 L640.0,471.5 L641.0,471.0 L642.0,471.1 L643.0,470.9 L644.0,471.2 L645.0,471.2 L646.0,469.7 L647.0,469.5 L648.0,469.5 L649.0,469.2 L650.0,469.3 L651.0,469.0 L652.0,468.7 L653.0,468.9 L654.0,468.0 L655.0,467.3 L656.0,466.8 L657.0,466.8 L658.0,466.6 L659.0,465.9 L660.0,466.8 L661.0,466.4 L662.0,465.9 L663.0,465.4 L664.0,464.9 L665.0,464.9 L666.0,465.8 L667.0,463.7 L668.0,464.5 L669.0,464.5 L670.0,464.0 L671.0,463.6 L672.0,463.9 L673.0,462.9 L674.0,463.5 L675.0,463.8 L676.0,462.7 L677.0,462.8 L678.0,463.3 L679.0,463.6 L680.0,463.8 L681.0,463.5 L682.0,462.9 L683.0,462.7 L684.0,463.3 L685.0,463.4 L686.0,462.7 L687.0,463.2 L688.0,463.3 L689.0,463.7 L690.0,462.8 L691.0,463.5 L692.0,462.7 L693.0,463.1 L694.0,463.2 L695.0,464.0 L696.0,464.8 L697.0,463.5 L698.0,463.7 L699.0,463.9 L700.0,462.9 L701.0,463.9 L702.0,463.1 L703.0,464.5 L704.0,464.4 L705.0,464.1 L706.0,463.6 L707.0,464.8 L708.0,464.3 L709.0,464.4 L710.0,464.8 L711.0,463.9 L712.0,465.1 L713.0,465.5 L714.0,465.4 L715.0,465.4 L716.0,465.1 L717.0,465.9 L718.0,465.9 L719.0,465.9 L720.0,465.8 L721.0,466.6 L722.0,466.9 L723.0,466.6 L724.0,467.0 L725.0,467.3 L726.0,467.6 L727.0,467.1 L728.0,467.0 L729.0,467.0 L730.0,467.4 L731.0,467.7 L732.0,468.0 L733.0,467.5 L734.0,467.9 L735.0,467.5 L736.0,468.6 L737.0,468.0" stroke="#f00" stroke-width="4.1" stroke-dasharray="6 7"/>
</g>
<text transform="translate(347.90,23.60) scale(1,1.015)" font-size="32.53" text-anchor="start" fill="#000" stroke="#000">excitation: He-Cd laser R.T.</text>
<text transform="translate(107.04,637.90) scale(1,1.035)" font-size="38.4" text-anchor="end" fill="#000" stroke="#000">0.0</text>
<text transform="translate(107.04,500.98) scale(1,1.035)" font-size="38.4" text-anchor="end" fill="#000" stroke="#000">0.5</text>
<text transform="translate(107.04,364.05) scale(1,1.035)" font-size="38.4" text-anchor="end" fill="#000" stroke="#000">1.0</text>
<text transform="translate(107.04,227.12) scale(1,1.035)" font-size="38.4" text-anchor="end" fill="#000" stroke="#000">1.5</text>
<text transform="translate(107.04,90.20) scale(1,1.035)" font-size="38.4" text-anchor="end" fill="#000" stroke="#000">2.0</text>
<text transform="translate(213.14,683.20) scale(1,1.035)" font-size="38.4" text-anchor="middle" fill="#000" stroke="#000">360</text>
<text transform="translate(398.93,683.20) scale(1,1.035)" font-size="38.4" text-anchor="middle" fill="#000" stroke="#000">380</text>
<text transform="translate(584.71,683.20) scale(1,1.035)" font-size="38.4" text-anchor="middle" fill="#000" stroke="#000">400</text>
<text transform="translate(769.90,683.20) scale(1,1.035)" font-size="38.4" text-anchor="middle" fill="#000" stroke="#000">420</text>
<text transform="translate(445.30,735.60) scale(1,1.015)" font-size="38.35" text-anchor="middle" fill="#000" stroke="#000">Wavelength (nm)</text>
<text transform="translate(28,338.4) rotate(-90) scale(1,1.015)" font-size="38.12" text-anchor="middle" fill="#000" stroke="#000">PL intensity/FF (a.u.)</text>
<text transform="translate(298.85,113.20) scale(1,1.015)" font-size="34.9" text-anchor="start" fill="#000" stroke="#000">GaN nanocolumn array</text>
<text transform="translate(298.40,156.60) scale(1,1.015)" font-size="35" text-anchor="start" fill="#000" stroke="#000">(D=122nm)</text>
<text transform="translate(313.14,205.50) scale(1,1.015)" font-size="35" fill="#000" stroke="#000"><tspan class="sym" font-size="35.2" y="0.10">λ</tspan><tspan x="17.81" y="0">=363.0 nm</tspan></text>
<text transform="translate(300.30,276.10) scale(1,1.015)" font-size="35" text-anchor="start" fill="#f00" stroke="#f00">HVPE-GaN substrate</text>
<text transform="translate(300.64,319.40) scale(1,1.015)" font-size="35" fill="#f00" stroke="#f00"><tspan class="sym" font-size="35.2" y="0.39">λ</tspan><tspan x="18.31" y="0">=363.6 nm</tspan></text>
<text transform="translate(338.05,359.00) scale(1,1.015)" font-size="35" text-anchor="start" fill="#f00" stroke="#f00">x10</text>
<text transform="translate(455.70,556.80) scale(1,1.035)" font-size="28.6" text-anchor="end" fill="#000" stroke="#000">0.00</text>
<text transform="translate(454.40,476.90) scale(1,1.035)" font-size="28.6" text-anchor="end" fill="#000" stroke="#000">0.01</text>
<text transform="translate(455.70,397.00) scale(1,1.035)" font-size="28.6" text-anchor="end" fill="#000" stroke="#000">0.02</text>
<text transform="translate(463.80,588.50) scale(1,1.035)" font-size="29" text-anchor="middle" fill="#000" stroke="#000">450</text>
<text transform="translate(549.20,588.50) scale(1,1.035)" font-size="29" text-anchor="middle" fill="#000" stroke="#000">500</text>
<text transform="translate(635.20,588.50) scale(1,1.035)" font-size="29" text-anchor="middle" fill="#000" stroke="#000">550</text>
<text transform="translate(720.20,588.50) scale(1,1.035)" font-size="29" text-anchor="middle" fill="#000" stroke="#000">600</text>
</svg></body></html>
